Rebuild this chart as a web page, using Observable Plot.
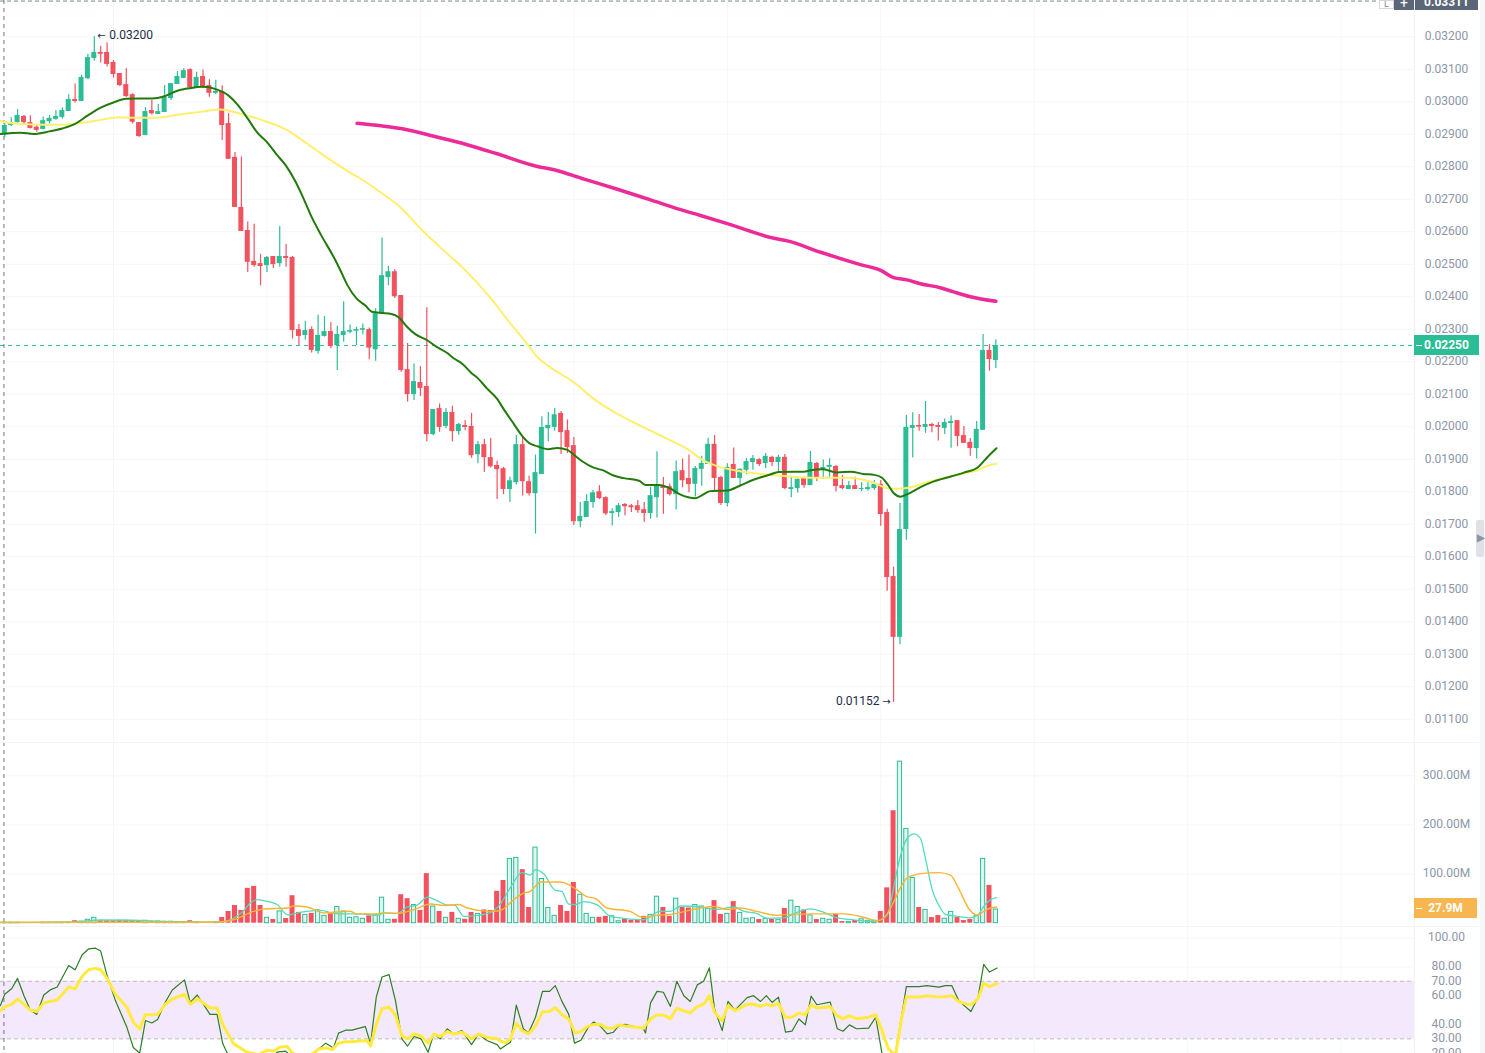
<!DOCTYPE html>
<html>
<head>
<meta charset="utf-8">
<script src="https://cdn.jsdelivr.net/npm/d3@7"></script>
<script src="https://cdn.jsdelivr.net/npm/@observablehq/plot@0.6"></script>
<style>
html,body{margin:0;padding:0;background:#fff;overflow:hidden}
#wrap{position:relative;width:1485px;height:1053px;overflow:hidden;font-family:Roboto,sans-serif}
#wrap svg.plot, #wrap svg{display:block;max-width:none}
.badge{position:absolute;color:#fff;font:bold 12px Roboto,sans-serif;text-align:center;box-sizing:border-box}
.dash{position:absolute;left:2px;width:6px;height:1px;background:#fff;top:50%}
</style>
</head>
<body>
<div id="wrap"></div>
<script>
// All prices are in units of 0.00001
const open = [2898,2927,2936,2955,2936,2922,2915,2939,2946,2952,
2970,3007,3001,3071,3133,3152,3152,3121,3087,3053,
3022,2936,2896,2973,2961,2967,3010,3053,3072,3099,
3043,3078,3050,3026,3032,2933,2829,2675,2604,2509,
2502,2496,2524,2502,2524,2521,2299,2281,2299,2232,
2278,2293,2250,2281,2291,2294,2297,2299,2237,2348,
2459,2477,2404,2176,2099,2136,2124,1976,2056,2001,
2044,1985,2004,2001,1914,1945,1905,1881,1871,1807,
1828,1945,1831,1794,1853,1994,1998,2041,1988,1942,
1708,1721,1767,1800,1782,1733,1736,1761,1757,1757,
1745,1733,1782,1816,1816,1791,1865,1841,1823,1869,
1884,1946,1844,1764,1884,1841,1866,1890,1899,1887,
1906,1890,1906,1807,1810,1841,1819,1887,1866,1875,
1878,1819,1807,1819,1807,1807,1810,1823,1736,1539,
1352,1684,1995,2004,1998,2007,2004,1995,2010,2019,
1973,1952,1933,1989,2235,2204];
const close = [2927,2936,2958,2936,2918,2912,2942,2949,2955,2973,
3007,3001,3075,3136,3152,3146,3115,3084,3050,3016,
2937,2893,2970,2963,2970,3014,3056,3078,3096,3043,
3075,3047,3026,3032,2927,2823,2675,2601,2506,2496,
2493,2521,2499,2524,2518,2296,2278,2296,2235,2281,
2293,2247,2284,2293,2296,2299,2302,2242,2348,2465,
2477,2400,2173,2099,2139,2118,1976,2053,1998,2044,
1985,2007,1998,1911,1945,1905,1877,1868,1807,1834,
1945,1831,1794,1859,1998,2004,2037,1982,1936,1708,
1724,1770,1797,1779,1732,1739,1757,1754,1751,1742,
1733,1788,1819,1810,1791,1862,1834,1822,1872,1887,
1946,1841,1764,1875,1841,1869,1893,1902,1884,1909,
1890,1906,1810,1813,1838,1819,1890,1841,1875,1881,
1816,1810,1819,1807,1810,1813,1823,1730,1536,1352,
1684,1998,2004,1999,2007,2001,1998,2013,2016,1970,
1949,1933,1992,2235,2207,2250];
const high = [2932,2951,2976,2958,2957,2927,2953,2958,2973,2982,
3022,3055,3082,3146,3200,3170,3182,3127,3087,3102,
3025,2936,2982,3004,2992,3050,3056,3093,3102,3102,
3091,3098,3068,3066,3049,2964,2844,2830,2630,2623,
2530,2524,2524,2616,2561,2524,2315,2325,2307,2343,
2339,2321,2309,2385,2313,2306,2316,2304,2363,2581,
2494,2483,2404,2256,2193,2185,2366,2053,2070,2056,
2063,2010,2019,2041,1955,1961,1964,1894,1875,1845,
1973,1970,1848,1913,2031,2044,2056,2047,2021,1967,
1767,1791,1804,1819,1785,1748,1764,1764,1761,1773,
1767,1814,1923,1844,1824,1895,1901,1913,1878,1909,
1965,1973,1848,1886,1935,1871,1902,1912,1902,1918,
1909,1912,1915,1845,1840,1845,1924,1890,1898,1902,
1881,1850,1832,1845,1828,1828,1835,1835,1746,1568,
1765,2035,2043,2038,2078,2011,2013,2024,2033,2019,
2001,1964,2016,2284,2253,2268];
const low = [2889,2924,2934,2927,2916,2906,2914,2932,2943,2946,
2970,2996,3001,3068,3125,3119,3107,3073,3047,3014,
2932,2891,2896,2959,2961,2967,3004,3053,3071,3041,
3041,3041,3014,3022,2881,2823,2675,2601,2475,2491,
2434,2475,2487,2491,2491,2270,2250,2266,2227,2223,
2276,2240,2173,2260,2286,2250,2283,2206,2202,2348,
2434,2395,2168,2076,2081,2093,1954,1973,1983,1994,
1954,1974,1988,1903,1886,1859,1873,1776,1791,1767,
1821,1787,1787,1670,1853,1954,1986,1915,1918,1696,
1689,1721,1749,1776,1727,1695,1721,1726,1736,1734,
1706,1716,1719,1731,1787,1744,1812,1797,1784,1817,
1884,1804,1758,1753,1841,1819,1853,1866,1878,1872,
1878,1860,1806,1782,1796,1811,1819,1832,1838,1843,
1799,1806,1807,1807,1800,1802,1804,1694,1494,1152,
1329,1651,1904,1986,1980,1982,1956,1976,1934,1939,
1949,1909,1902,1989,2171,2179];
// Volume in millions
const volume = [1,1,1,1.5,1,1,1,1,1,1,
1.5,5,3,7,11,5,5,5,6,6,
5,5,5,4,3.5,3,3,2,2,5,
2,2,2,2,11.6,24,36,26,71,75,
36,11,7.5,24,9.5,56,22,17,20,26,
15,19,33,24,11,12,9,15,16,52,
7,8,58,50,37,26,101,34,24,11,
22,9,8,22,19,27,26,65,87,131,
133,109,32,154,90,31,15,36,24,83,
58,19,11,12,14,14,4,8,5.5,7,
14,17,54,32,14,50,32,31,37,34,
29,46,18,19,44,21,9,10,7.5,9,
7.5,7,30,46,33,27,16,7.5,9,7,
18,3.4,2.7,5.5,8,5,5,24,72,229,
329,192,92,32,27,11.5,15.6,9,23,11.5,
5.4,7.5,15.6,131,77,27.9];

const maGreenX = [-0.7,2.5,4.5,7,9,11,13,15,17,19,21,23,25,27,29,31,33,35,36.5,38,39.5,41,42.5,44,45.5,46.5,48,49.5,51.5,52.5,53.5,55,56.4,57.4,59,60.3,61.6,62.9,64.2,66,67.6,69.2,70.2,71.5,73,74,75.4,77,78,79.6,81,82,83.3,85,86.4,88,89,90.3,92,93.7,95.2,96.8,99.2,100.2,102.3,103.9,105.6,108,109,110.3,113,114.8,117.1,119.7,121,123.4,125,126,128,130.2,132.3,134.3,136,137.2,138,139,140.1,141.1,143.7,145.3,148,150,152.1,153.7,155.1];
const maGreenY = [2901,2905,2901,2909,2918,2932,2958,2982,2998,3009,3010,3010,3017,3034,3042,3046,3039,3019,2989,2948,2905,2876,2838,2803,2753,2712,2645,2589,2520,2481,2439,2395,2373,2354,2350,2348,2337,2308,2285,2267,2245,2227,2211,2195,2165,2149,2118,2086,2055,2009,1970,1950,1940,1931,1935,1929,1914,1894,1875,1865,1850,1842,1834,1821,1821,1812,1792,1780,1789,1802,1804,1817,1837,1853,1861,1862,1862,1866,1869,1859,1862,1855,1852,1843,1825,1796,1785,1792,1819,1832,1847,1859,1874,1907,1934];
const maYellowX = [-0.7,0.9,2.5,4.5,7.7,10.8,14,17.6,20.2,23.8,27,30.6,33.7,36.9,40,44.2,47.3,50.4,54,55.6,58.8,61.9,65,68.1,71.8,75.9,78.5,81.9,83.2,85.1,89,92.1,95.8,97.8,101,104.1,106.7,109.3,111.4,115,119.7,123.9,128.1,131.7,135.9,138,139.6,141.7,144.3,147.4,149.5,152.1,153.7,155.1];
const maYellowY = [2941,2935,2932,2930,2929,2932,2941,2952,2951,2951,2960,2969,2976,2963,2945,2912,2871,2828,2782,2764,2721,2675,2610,2552,2486,2398,2332,2250,2216,2186,2137,2086,2040,2019,1988,1958,1932,1896,1879,1863,1852,1845,1843,1843,1828,1811,1809,1814,1830,1845,1855,1866,1880,1886];
const maPinkX = [55.1,58.8,62.9,67.1,72.3,77,83.3,85.9,90.6,95.8,101,105.7,108.8,113,120.3,122.4,127.6,133.8,137,139,141.1,143.2,146.3,148.4,151,155];
const maPinkY = [2934,2926,2914,2894,2868,2840,2801,2791,2762,2731,2698,2668,2650,2625,2580,2572,2537,2499,2481,2459,2452,2440,2428,2415,2400,2386];

const volMaFastX = [-0.7,10,12,15,20,25,31,33.5,35.9,37.4,38.4,39.5,40.5,42.6,44.2,46.2,49.4,51.5,56.7,58.3,59.3,61.4,62.9,64.5,66.1,67.6,69.2,70.3,71.8,73.9,76,77.5,79.1,80.9,82.2,83,84.3,86.1,87.1,88.2,89.2,90.5,92.6,94.7,96.8,99.9,102.5,104.1,105.7,108.8,111.4,114,115.6,117.6,119.2,121.8,123.9,126,128.1,130.2,132.8,135.4,136.4,138,138.5,139.6,140.4,141.1,142.2,143.2,144,145,146.1,147.1,149,151,152.1,153.4,154.2,155.1];
const volMaFastY = [1,2,4,6.5,6,3,2,2,11,26,41,48,46,38,17,22,26,20,18,16,21,20,33,37,53,46,37,37,14,16,22,39,73,103,98,109,100,67,65,39,38,44,38,14,10,7,24,24,35,33,28,33,24,20,10,11,22,29,22,11,7,4,5,16,39,111,151,172,182,173,131,70,36,18,14,11,16,39,48,52];
const volMaSlowX = [-0.7,33,35.8,38.9,40.5,44.2,45.2,47.3,49.9,54,55.1,58.2,59.3,61.4,64,66.6,68.7,71,72.3,75.9,77.5,79.6,81.1,82.2,83.8,86.9,89.5,91,92.4,94.2,97.8,99.7,102,104.6,108.8,110.9,113,115,117.6,120.8,122.3,126.5,131.2,134.9,136.4,138,139,140.1,141.1,142.2,143.2,146.1,147.9,149.2,150.8,152.1,153.1,154.2,155.1];
const volMaSlowY = [2,2,7,24,29,31,35,33,21,24.5,19,19,21,20,28,39,36,38,31,24,26,48,61,65,84,84,68,54,50,31,24,12,16,19,31,34,28,31,24,16,18,19,19,10,5,19,43,73,92,98,101,103,98,70,29,16,24,31,33];

const rsiX = [-0.7,0,1.1,2,3,4,5,6.1,7.1,8.2,10,11,12.1,13.1,14.2,15,16,17.3,19.1,20.1,21.1,22,23,23.9,25.1,26.2,28.1,29,30.1,32.1,33.2,34.1,34.8,36,38,40,41.5,42.6,43.9,44.3,45,46.5,48.3,50.2,51.4,52.2,53.3,54.3,55.9,56.4,57.2,58.1,59,60.1,61.1,62.1,63,64,65.1,66.2,67.1,68.1,69.2,70.2,71.5,73,74.1,75.4,77,77.5,79.1,80,81.1,81.9,83,84.1,85.2,86.1,87.1,88.2,89.1,90.1,91.2,92.1,93.1,94.2,95.2,96,97,99.9,100.2,101,102,103,104.1,105.1,106.2,107.2,108.3,109.3,110.2,111,112.2,113.1,114.2,116.1,117.1,118.2,119.1,120,121,122.1,123.1,124.2,125.2,126.1,127,129.1,130.2,131.1,132.1,133.2,135.1,136.2,137.2,138,139.3,140.3,141,143,144.2,146.1,147.1,148.1,149.2,151.1,152.2,153.1,154,155.2];
const rsiY = [53,61,65,72,60,50,47,60.5,64,66,81,78,88.5,92.5,93,91,74,56.6,38,24,20,42.7,41,43.4,55.4,64,71,55.4,60.5,47,47,26.5,20,14,11,11,16,20.7,21.4,20,14,14,20,27,23.7,34,36,36,38,38.5,26.5,59,73,74.6,56.6,30,25,31.6,30,20.7,33.4,30,37,33.4,35.7,26,33.4,28.8,26,23,27.7,53.4,37,34,45,63,63,67,56.4,47,27,29,37.6,41.7,39,33.4,34.6,39,40,37,34,55,63,62.4,52.5,70,60,56,67.5,70,79.4,50.7,35.7,56,50,58.7,60,56,60,55.3,59,34.6,35.3,43.8,39.7,59.7,53.7,55.5,37,35.3,39.7,37,37.4,45,19.7,12,20.8,47,66.3,66.3,67,66,67,67,56.4,49,58.7,81.7,76.4,79.2];
const rsiMaX = [-0.7,0.1,1.1,2,3,4,5,6.1,7.1,8.2,10,11,12.1,13.1,14.2,15,16,17.3,19.1,20.1,21.1,22,23,23.9,25.1,26.2,28.1,29,30.1,32.1,33.2,34.1,35.8,37.9,39.7,41,42.1,43.1,44.2,45,46.5,48.3,49.1,50.2,51.2,52.2,53.3,54.3,55.9,56.7,57.2,58.1,59,60.1,61.1,62.1,63,64,65.1,66.2,67.1,68.1,69.2,70.2,71.5,73,74.1,75.4,77,77.5,78.3,79.1,80,80.9,81.9,83,84.1,85.2,86.1,87.1,88.2,89.2,90.1,91.2,92.1,93.1,94.2,95.2,96,97,99.9,101,102,103,104.1,105.1,106.2,107.2,108.3,109.3,110.2,111,112.2,113.1,114.2,116.1,117.1,118.2,119.1,120,121,122.1,123.1,124.2,125.2,126.1,127,129.1,130.2,131.1,132.1,133.2,135.1,136.2,137.2,138.2,139.3,140.3,141,143,144.2,146.1,147.1,148.1,149.2,151.1,152.2,153.1,154,155.2];
const rsiMaY = [49.6,52.6,54,57.7,54,50,49,55,56,57,66,64.7,73.5,78,79,78,72,61,52,41.5,37,47,46.6,47,54,57.7,61,54,58,51.5,51.5,40,26.5,20.7,19,22,21.6,24.4,24.6,20,17,20,23,23.7,22.5,27,28,28,28.6,28.6,25,40,51,52,46.6,32,30,33.4,32,27,33.4,31.6,35,33.4,34.6,30,33.4,31,30,28.4,27.2,30,40.8,35.7,33.4,39,48.9,49,51.8,47,43.8,34,35,38.7,40,40,37.4,37.6,39.7,39,37.6,43.8,46.6,46.6,44,51.4,49.5,48,52.5,54,60,48.4,42.6,53,49.5,54,54,52.5,54,53,54.6,45,45,48,46.8,53.7,51.4,52.3,46,44,46,44,45,46.8,35.7,23,18.5,45,59,59,60,59,59.4,60,55.7,53.4,58,68.6,66.3,68.6];

const priceTicks = [3200,3100,3000,2900,2800,2700,2600,2500,2400,2300,2200,2100,2000,1900,1800,1700,1600,1500,1400,1300,1200,1100];
const volTicks = [100,200,300];
const rsiTicks = [100,80,70,60,40,30,20];
const timeGrid = [17,41,65,89,113,137,161,185,209];
const lastPrice = 2250;
const crossIndex = -0.13;
const crossPrice = 3310;
const highMark = {k:14, p:3200, label:"0.03200", arrow:"\u2190"};
const lowMark = {k:139, p:1152, label:"0.01152", arrow:"\u2192"};

const RED = "#f2515e", GREEN = "#2dbd96", GRID = "#f5f6f7", AXIS = "#8c96a8", DASH = "#6f7480", MARK = "#1c2b4a";
const xScale = {domain:[-0.67,220.47], axis:null};
const common = {width:1485, marginLeft:0, marginRight:71, marginTop:0, marginBottom:0,
  style:{fontFamily:"Roboto, sans-serif", fontSize:"12px", background:"transparent"}};
const candles = open.map((o,k)=>({k,o,c:close[k],h:high[k],l:low[k],v:volume[k],up:close[k]>=o}));
const gridX = Plot.ruleX(timeGrid,{stroke:GRID});
const crossX = Plot.ruleX([crossIndex],{stroke:DASH,strokeDasharray:"4,4",strokeWidth:1});
const edge = Plot.ruleX([220.44],{stroke:"#f0f1f3"});
const axis = (ticks,fmt)=>Plot.axisY(ticks,{anchor:"right",label:null,tickSize:0,tickPadding:32,textAnchor:"middle",dy:-0.5,tickFormat:fmt,color:AXIS,fontSize:12});
const thin = (x,y,o)=>Plot.line(x.map((_,i)=>i),{x:i=>x[i],y:i=>y[i],clip:true,...o});

const wrap = document.getElementById("wrap");

// Price panel
wrap.append(Plot.plot({...common, height:742, x:xScale,
  y:{domain:[1028.5,3311.7],axis:null,label:null},
  marks:[
    gridX, edge,
    Plot.ruleY(priceTicks,{stroke:GRID}),
    Plot.ruleY([crossPrice],{stroke:"#7d879b",strokeDasharray:"4,3"}),
    Plot.ruleY([lastPrice],{stroke:GREEN,strokeDasharray:"4,4"}),
    crossX,
    Plot.ruleX(candles,{x:"k",y1:"l",y2:"h",stroke:d=>d.up?GREEN:RED,strokeWidth:1.2}),
    Plot.rect(candles,{x1:d=>d.k-0.39,x2:d=>d.k+0.39,y1:"o",y2:"c",fill:d=>d.up?GREEN:RED}),
    thin(maYellowX,maYellowY,{stroke:"#ffef6a",strokeWidth:2,curve:"monotone-x"}),
    thin(maGreenX,maGreenY,{stroke:"#227a0b",strokeWidth:2,curve:"monotone-x"}),
    thin(maPinkX,maPinkY,{stroke:"#ec2b98",strokeWidth:3.5,curve:"monotone-x"}),
    Plot.text([highMark],{x:"k",y:"p",text:"arrow",textAnchor:"start",dx:3,dy:-1,fill:MARK,fontSize:10,fontFamily:"DejaVu Sans"}),
    Plot.text([highMark],{x:"k",y:"p",text:"label",textAnchor:"start",dx:15,dy:-1.5,fill:MARK,fontSize:12}),
    Plot.text([lowMark],{x:"k",y:"p",text:"arrow",textAnchor:"end",dx:-3,dy:-1,fill:MARK,fontSize:10,fontFamily:"DejaVu Sans"}),
    Plot.text([lowMark],{x:"k",y:"p",text:"label",textAnchor:"end",dx:-14,dy:-1,fill:MARK,fontSize:12}),
    axis(priceTicks,d=>(d/1e5).toFixed(5))
  ]}));

// Volume panel
wrap.append(Plot.plot({...common, height:184, x:xScale,
  y:{domain:[-6.7,368],axis:null,label:null},
  marks:[
    gridX, edge,
    Plot.ruleY(volTicks,{stroke:GRID}),
    crossX,
    Plot.rect(candles.filter(d=>!d.up),{x1:d=>d.k-0.39,x2:d=>d.k+0.39,y1:0,y2:"v",fill:RED}),
    Plot.rect(candles.filter(d=>d.up),{x1:d=>d.k-0.33,x2:d=>d.k+0.33,y1:0,y2:"v",fill:"#dff5ef",stroke:GREEN,strokeWidth:1}),
    thin(volMaFastX,volMaFastY,{stroke:"#52dcbc",strokeWidth:1.3,curve:"monotone-x"}),
    thin(volMaSlowX,volMaSlowY,{stroke:"#fbb42f",strokeWidth:1.4,curve:"monotone-x"}),
    axis(volTicks,d=>d.toFixed(2)+"M")
  ]}));

// RSI panel
wrap.append(Plot.plot({...common, height:127, x:xScale,
  y:{domain:[19.8,108.1],axis:null,label:null},
  marks:[
    gridX, edge,
    Plot.ruleY(rsiTicks,{stroke:GRID}),
    Plot.rect([{a:30,b:70}],{x1:-0.67,x2:220.44,y1:"a",y2:"b",fill:"#f4e9fc"}),
    Plot.ruleY([70,30],{stroke:"#bdbdbd",strokeDasharray:"4,3"}),
    crossX,
    thin(rsiX,rsiY,{stroke:"#2f7d25",strokeWidth:1.2}),
    thin(rsiMaX,rsiMaY,{stroke:"#ffea3d",strokeWidth:3}),
    axis(rsiTicks,d=>d.toFixed(2))
  ]}));

// Chrome: value badges, top controls, right strip
function box(css,text){const d=document.createElement("div");d.className="badge";d.style.cssText=css;if(text)d.textContent=text;wrap.append(d);return d;}
box("left:1480px;top:0;width:5px;height:1053px;background:#f6f7f8");
box("left:1476px;top:520px;width:8px;height:37px;background:#dfe1e7;border-radius:2px");
box("left:1477px;top:531px;color:#8a95a8;font-size:10px;line-height:14px","\u25B6");
box("left:0;top:742px;width:1478px;height:1px;background:#f3f4f6");
box("left:0;top:926px;width:1478px;height:1px;background:#f3f4f6");
const cur = box("left:1414px;top:335px;width:65px;height:20px;line-height:20px;background:#2dbd96","0.02250");
cur.innerHTML += '<span class="dash"></span>';
const vol = box("left:1414px;top:898px;width:63px;height:20px;line-height:20px;background:#f7b64f","27.9M");
vol.innerHTML += '<span class="dash"></span>';
box("left:1415px;top:0;width:63px;height:10px;line-height:4px;background:#5b6679;overflow:hidden","0.03311");
box("left:1394px;top:0;width:20px;height:10px;line-height:6px;background:#5b6679;overflow:hidden;font-weight:400;font-size:14px","+");
box("left:1379px;top:0;width:15px;height:9px;line-height:6px;border:1px solid #d5d7dc;background:#fff;color:#7d879b;font-size:9px;font-weight:400;overflow:hidden","L");
</script>
</body>
</html>
